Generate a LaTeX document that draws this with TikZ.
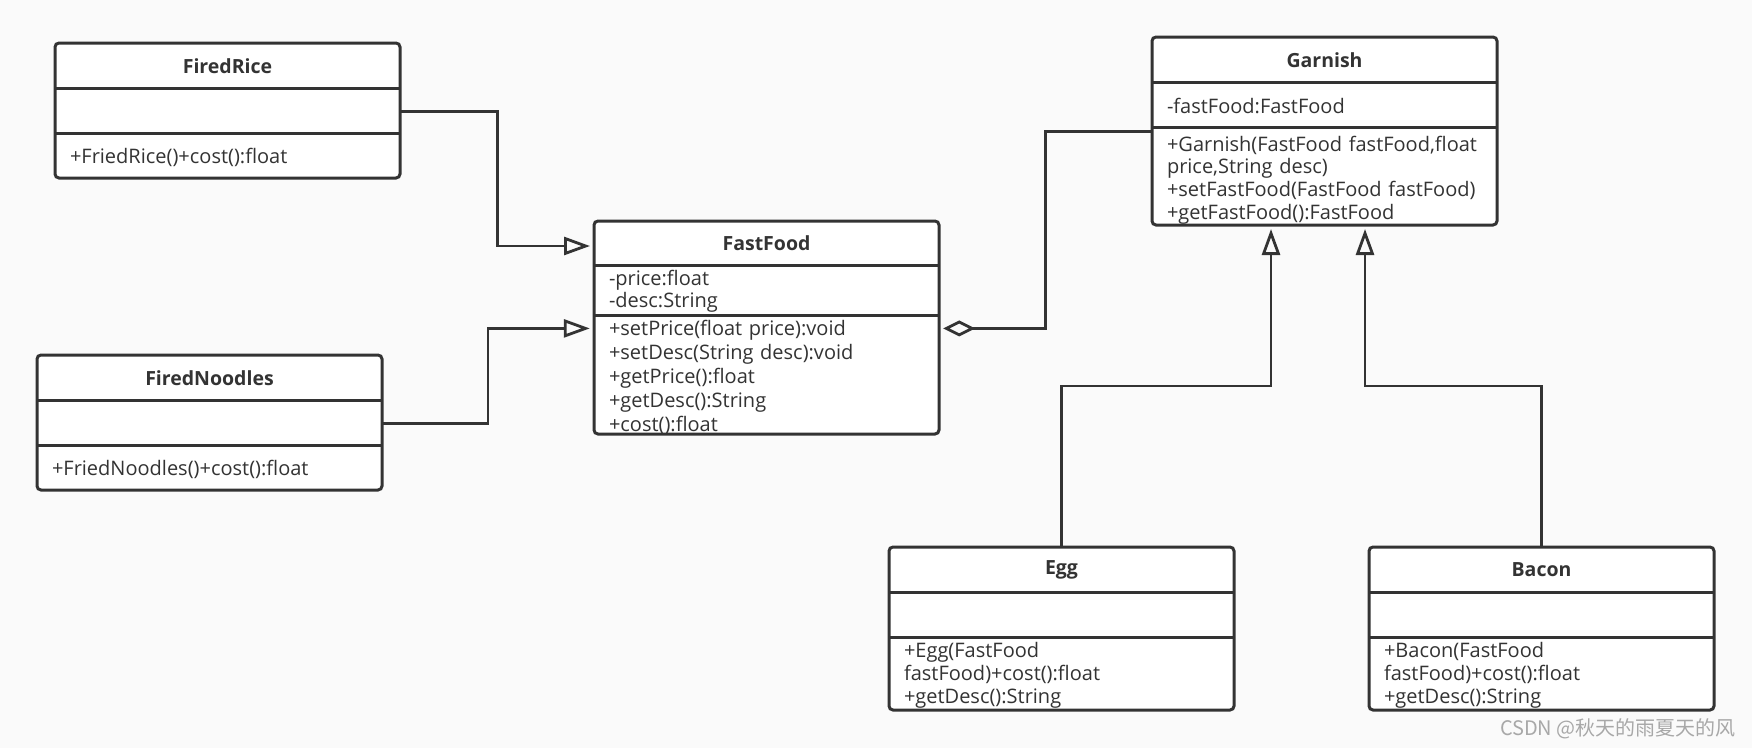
\documentclass[tikz,border=0pt]{standalone}
\usepackage{fontspec}
\setmainfont{Open Sans}
\newfontfamily\cjk{Noto Sans CJK SC}
\usetikzlibrary{positioning,calc,arrows.meta}
\definecolor{ink}{HTML}{333333}
\definecolor{paper}{HTML}{FAFAFA}
\definecolor{wmgray}{HTML}{A8A8A8}

\begin{document}
\begin{tikzpicture}[x=1pt,y=-1pt,
  box/.style={draw=ink,line width=3pt,rounded corners=4pt,fill=white,minimum width=345pt,inner sep=0pt,outer sep=0pt,anchor=north west},
  head/.style={minimum width=345pt,minimum height=45pt,inner sep=0pt,text=ink,font=\fontsize{19.5}{23}\selectfont\bfseries},
  cell/.style={minimum width=345pt,minimum height=45pt,inner xsep=15pt,inner ysep=0pt,text width=315pt,align=left,text=ink,font=\fontsize{20}{23}\selectfont},
  divider/.style={draw=ink,line width=3pt},
  link/.style={draw=ink,line width=2.8pt},
  inherit/.style={link,-{Triangle[open,length=26pt,width=18pt]},shorten >=4pt},
  owns/.style={link,{Diamond[open,length=32pt,width=16pt]}-,shorten <=4pt}]
\fill[paper] (0,0) rectangle (1752,748);
% FiredRice
\node[box,minimum height=135pt] (fr) at (55,43) {};
\node[head,below=0pt of fr.north] (frname) {FiredRice};
\node[cell,below=0pt of frname] (frattr) {};
\node[cell,below=0pt of frattr,yshift=-1pt] (frops) {+FriedRice()+cost():float};
\draw[divider] (frattr.north west) -- (frattr.north east) (frattr.south west) -- (frattr.south east);
% FiredNoodles
\node[box,minimum height=135pt] (fn) at (37,355) {};
\node[head,below=0pt of fn.north] (fnname) {FiredNoodles};
\node[cell,below=0pt of fnname] (fnattr) {};
\node[cell,below=0pt of fnattr,yshift=-1pt] (fnops) {+FriedNoodles()+cost():float};
\draw[divider] (fnattr.north west) -- (fnattr.north east) (fnattr.south west) -- (fnattr.south east);
% FastFood
\node[box,minimum height=213pt] (ff) at (594,221) {};
\node[head,below=0pt of ff.north,minimum height=44pt] (ffname) {FastFood};
\node[cell,below=0pt of ffname,minimum height=50pt,yshift=-1pt,font=\fontsize{20}{22}\selectfont] (ffattr) {-price:float\\-desc:String};
\node[cell,below=0pt of ffattr,minimum height=119pt,yshift=-1pt,font=\fontsize{20}{24}\selectfont] (ffops) {+setPrice(float price):void\\+setDesc(String desc):void\\+getPrice():float\\+getDesc():String\\+cost():float};
\draw[divider] (ffname.south west) -- (ffname.south east) ($(ffname.south west)+(0,50)$) -- ($(ffname.south east)+(0,50)$);
% Garnish
\node[box,minimum height=188pt] (g) at (1152,37) {};
\node[head,below=0pt of g.north] (gname) {Garnish};
\node[cell,below=0pt of gname,yshift=-1pt] (gattr) {-fastFood:FastFood};
\node[cell,below=0pt of gattr,minimum height=98pt,yshift=-2pt,font=\fontsize{20}{22.6}\selectfont] (gops) {+Garnish(FastFood fastFood,float\\price,String desc)\\+setFastFood(FastFood fastFood)\\+getFastFood():FastFood};
\draw[divider] (gname.south west) -- (gname.south east) ($(gname.south west)+(0,45)$) -- ($(gname.south east)+(0,45)$);
% Egg
\node[box,minimum height=163pt] (egg) at (889,547) {};
\node[head,below=0pt of egg.north] (eggname) {Egg};
\node[cell,below=0pt of eggname] (eggattr) {};
\node[cell,below=0pt of eggattr,minimum height=73pt,yshift=-1pt] (eggops) {+Egg(FastFood\\fastFood)+cost():float\\+getDesc():String};
\draw[divider] (eggattr.north west) -- (eggattr.north east) (eggattr.south west) -- (eggattr.south east);
% Bacon
\node[box,minimum height=163pt] (bacon) at (1369,547) {};
\node[head,below=0pt of bacon.north] (baconname) {Bacon};
\node[cell,below=0pt of baconname] (baconattr) {};
\node[cell,below=0pt of baconattr,minimum height=73pt,yshift=-1pt] (baconops) {+Bacon(FastFood\\fastFood)+cost():float\\+getDesc():String};
\draw[divider] (baconattr.north west) -- (baconattr.north east) (baconattr.south west) -- (baconattr.south east);
% connectors
\coordinate (ffin1) at ($(ff.north west)+(0,25)$);
\coordinate (ffin2) at ($(ffname.south west)+(0,63)$);
\coordinate (ffout) at ($(ffname.south east)+(0,63)$);
\coordinate (gin) at ($(gname.south west)+(0,49)$);
\coordinate (gb1) at ($(g.south west)+(119,0)$);
\coordinate (gb2) at ($(g.south west)+(213,0)$);
\draw[inherit] (frattr.east) -| ($(frattr.east)!.5!(ffin1)$) |- (ffin1);
\draw[inherit] (fnattr.east) -| ($(fnattr.east)!.5!(ffin2)$) |- (ffin2);
\draw[owns] (ffout) -| ($(ffout)!.5!(gin)$) |- (gin);
\draw[inherit] (egg.north) |- ($(egg.north)!.5!(gb1)$) -| (gb1);
\draw[inherit] (bacon.north) |- ($(bacon.north)!.5!(gb2)$) -| (gb2);
\node[anchor=east,inner sep=0pt,text=wmgray,font=\cjk\fontsize{20}{20}\selectfont] (credit) at (1736,729) {CSDN @秋天的雨夏天的风};
\end{tikzpicture}
\end{document}
